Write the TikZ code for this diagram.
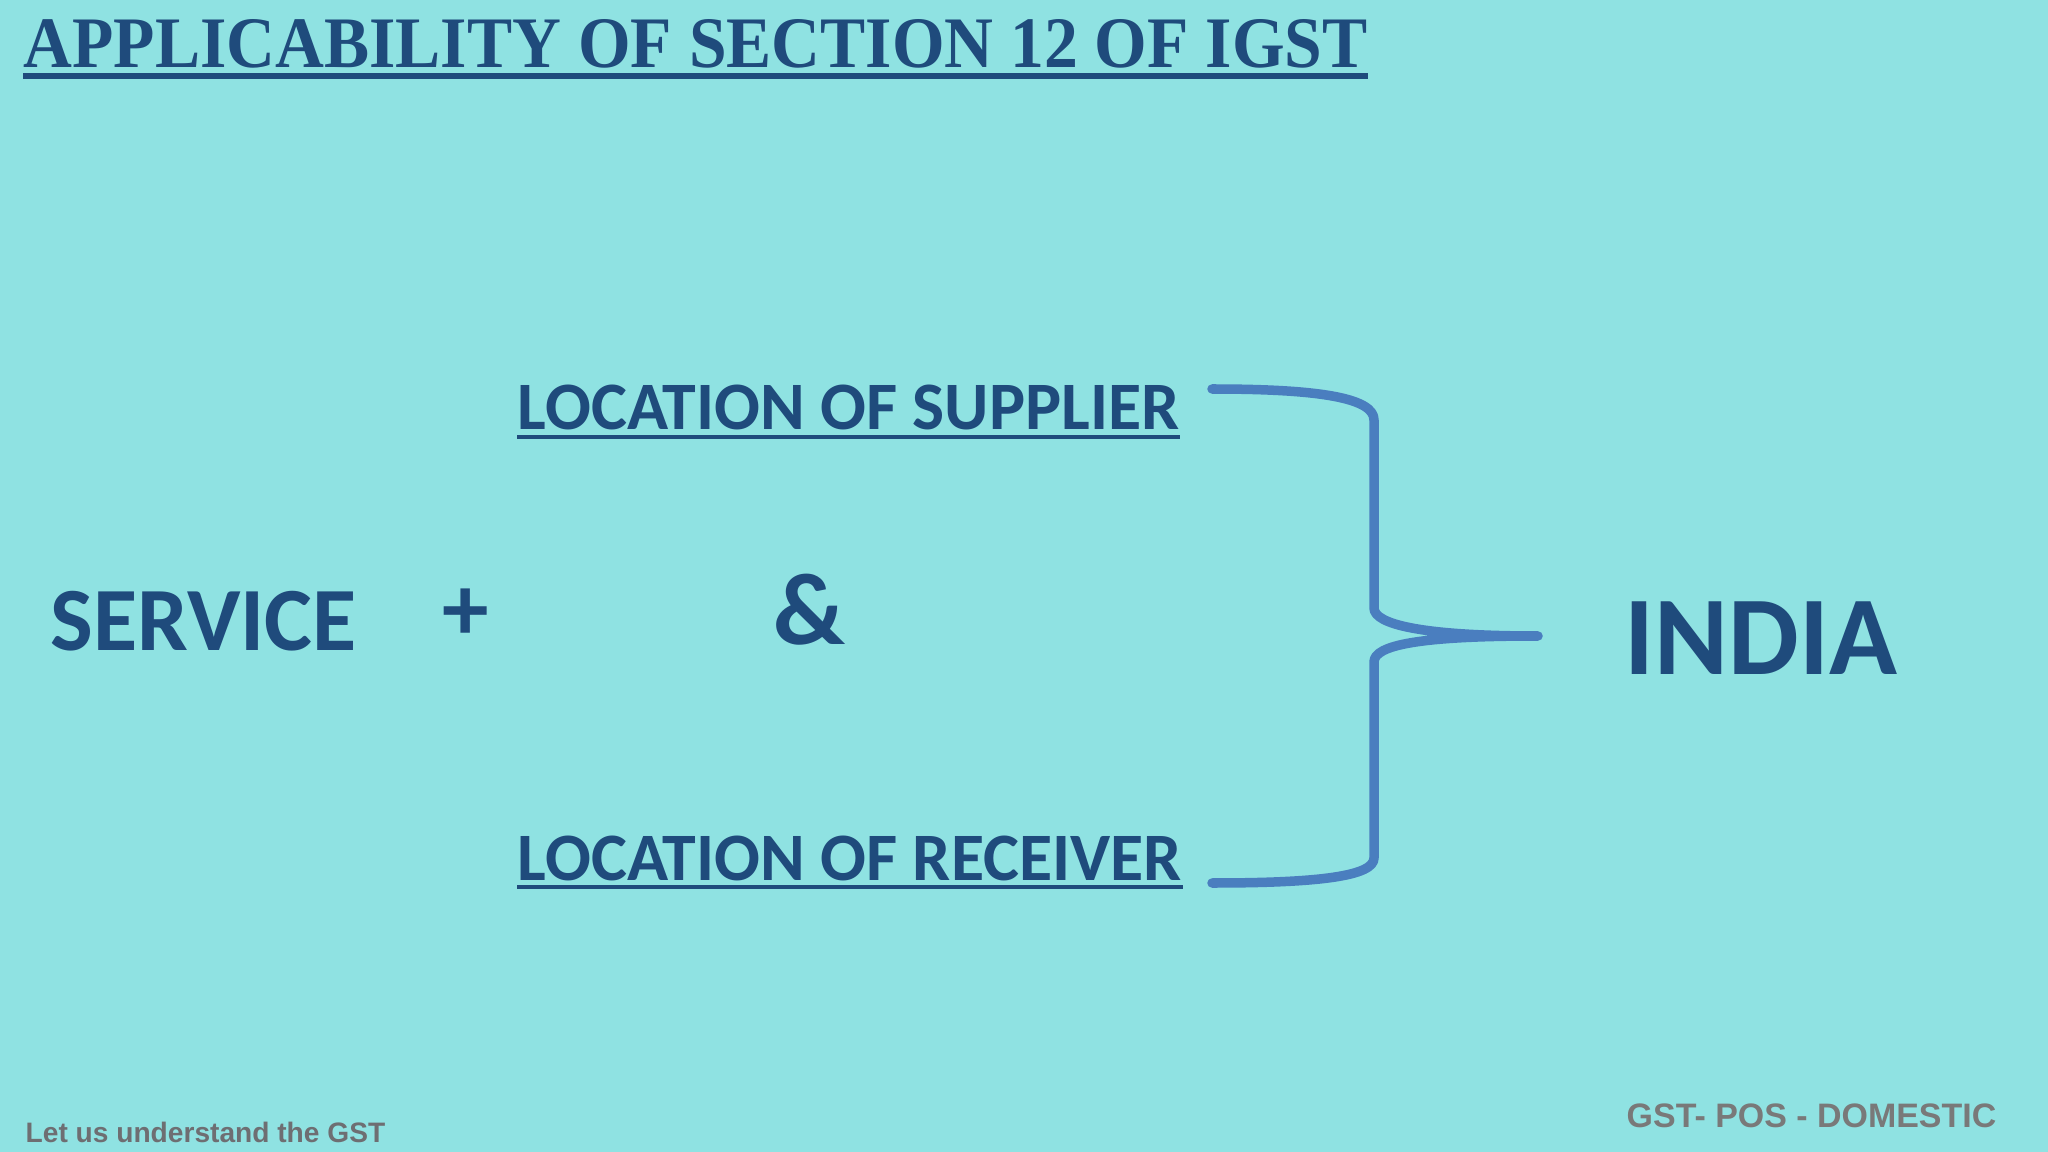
\documentclass[tikz,border=0pt]{standalone}
\usepackage{fontspec}
\usepackage{graphicx}
\newfontfamily\calfont{Carlito}
\newfontfamily\titlefont{Liberation Serif}
\newfontfamily\footfont{Liberation Sans}
\definecolor{bgcyan}{HTML}{8FE2E2}
\definecolor{darkblue}{HTML}{1F4B7C}
\definecolor{bracecol}{HTML}{4A7EBF}
\definecolor{footgray}{HTML}{6E6E72}
\tikzset{
  bigword/.style={anchor=base west, inner sep=0pt, text=darkblue, font=\calfont\bfseries},
  foottext/.style={anchor=base west, inner sep=0pt, text=footgray, font=\footfont\bfseries},
  underl/.style={darkblue, line width=0.04cm}
}
\begin{document}
\begin{tikzpicture}[x=0.01cm, y=-0.01cm]
        \fill[bgcyan] (0,0) rectangle (2048,1152);

        % title
        \node[anchor=base west, inner sep=0pt, text=darkblue] (title) at (23,68)
            {\resizebox{13.43cm}{0.48cm}{\titlefont\bfseries APPLICABILITY OF SECTION 12 OF IGST}};
        \draw[darkblue, line width=0.05cm] ([yshift=-0.08cm]title.base west) -- ([yshift=-0.08cm]title.base east);

        % left side
        \node[bigword, font=\calfont\bfseries\fontsize{25.7}{30}\selectfont] (service) at (50,650) {SERVICE};
        \node[bigword, font=\calfont\bfseries\fontsize{26.5}{30}\selectfont] (plus) at (442,640) {+};
        \node[bigword, font=\calfont\bfseries\fontsize{29}{34}\selectfont] (amp) at (773,645) {\&};

        \node[bigword, font=\calfont\bfseries\fontsize{19.3}{24}\selectfont] (supplier) at (517,430) {LOCATION OF SUPPLIER};
        \draw[underl] ([yshift=-0.07cm]supplier.base west) -- ([yshift=-0.07cm]supplier.base east);
        \node[bigword, font=\calfont\bfseries\fontsize{19.3}{24}\selectfont] (receiver) at (517,880) {LOCATION OF RECEIVER};
        \draw[underl] ([yshift=-0.07cm]receiver.base west) -- ([yshift=-0.07cm]receiver.base east);

        % brace
        \coordinate (tip) at (1538,636);
        \draw[bracecol, line width=0.095cm, line cap=round, line join=round]
            (1212,389) .. controls (1320,389) and (1374,398) .. (1374,420)
            -- (1374,608) .. controls (1374,624) and (1420,636) .. (tip)
            .. controls (1420,636) and (1374,645) .. (1374,662)
            -- (1374,858) .. controls (1374,876) and (1320,883) .. (1212,883);

        \node[bigword, font=\calfont\bfseries\fontsize{31.9}{36}\selectfont] (india) at (1624,675) {INDIA};

        % footers
        \node[foottext, font=\footfont\bfseries\fontsize{8.0}{9}\selectfont] (leftfoot) at (25,1142) {Let us understand the GST};
        \node[foottext, font=\footfont\bfseries\fontsize{9.65}{11}\selectfont, text=gray!95!black] (rightfoot) at (1626,1127) {GST- POS - DOMESTIC};
\end{tikzpicture}
\end{document}
